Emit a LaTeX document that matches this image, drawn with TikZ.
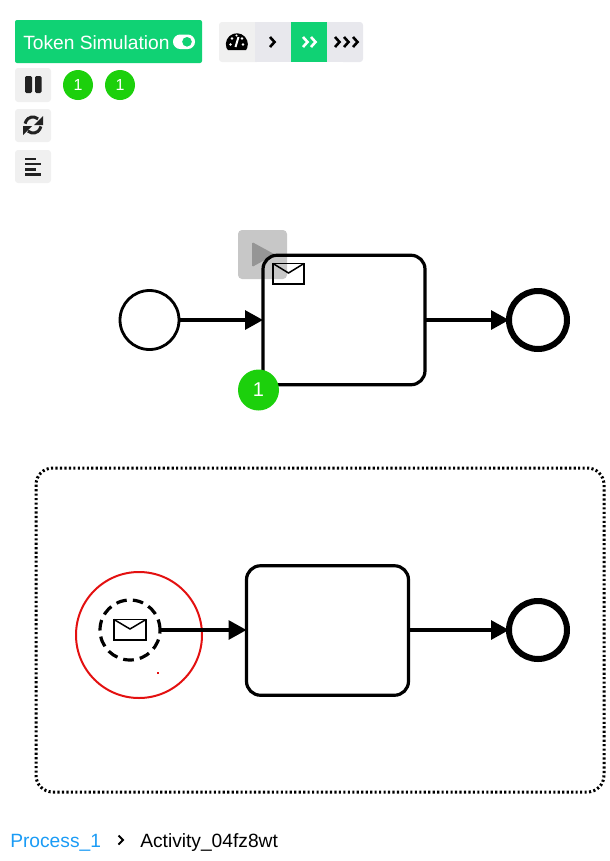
\documentclass[tikz,border=0pt]{standalone}
\usepackage{fontspec}
\setmainfont{Liberation Sans}
\usetikzlibrary{arrows.meta}
\definecolor{tsgreen}{HTML}{10D274}
\definecolor{tokgreen}{HTML}{1CD00C}
\definecolor{btngray}{HTML}{F0F0F0}
\definecolor{btnlav}{HTML}{E8E8ED}
\definecolor{icondark}{HTML}{222222}
\definecolor{crumb}{HTML}{1A9BF5}
\definecolor{selred}{HTML}{E31010}
\def\px{0.75pt}
\tikzset{
  x=0.75pt,y=-0.75pt,
  btn/.style={fill=btngray,rounded corners=2.25pt,draw=none},
  taskbox/.style={draw=black,fill=white,line width=3.2*\px,rounded corners=10.5pt,minimum width=162*\px,minimum height=129.5*\px,inner sep=0pt,outer sep=0pt},
  startev/.style={circle,draw=black,fill=white,line width=2.8*\px,minimum size=59*\px,inner sep=0pt,outer sep=0pt},
  endev/.style={circle,draw=black,fill=white,line width=6*\px,minimum size=58*\px,inner sep=0pt,outer sep=0pt},
  flow/.style={draw=black,line width=3.2*\px,-{Triangle[length=18*\px,width=19*\px]}},
  badge/.style={circle,fill=tokgreen,text=white,inner sep=0pt,minimum size=30*\px,font=\fontsize{12pt}{12pt}\selectfont},
  envelope/.style={draw=black,fill=white,line width=1.5*\px},
}
\begin{document}
\begin{tikzpicture}
\useasboundingbox (0,0) rectangle (610,861);
% toolbar
\fill[tsgreen,rounded corners=1.5pt] (15,20) rectangle (202,63);
\node[anchor=base west,text=white,inner sep=0pt,font=\fontsize{14.4pt}{14.4pt}\selectfont] (tstext) at (23,49) {Token Simulation};
\fill[white,rounded corners=5.4pt] (173,34.5) rectangle (195,49);
\fill[tsgreen] (187,41.8) circle (4.8);
% speed group
\fill[btngray,rounded corners=2.25pt] (219,22) rectangle (260,62);
\fill[btnlav,rounded corners=2.25pt] (340,22) rectangle (363,62);
\fill[btnlav] (255,22) rectangle (345,62);
\fill[tsgreen] (291,22) rectangle (327,62);
% gauge
\fill[black] (226.5,48) arc[start angle=160,end angle=380,radius=11] -- (246,50) -- (228,50) -- cycle;
\begin{scope}[white]
\fill (230.5,44.5) circle (1.3);
\fill (232,38.5) circle (1.3);
\fill (243,44.5) circle (1.3);
\fill (242,38.5) circle (1.3);
\fill (236.5,35.5) circle (1.2);
\draw[line width=2*\px] (235.5,47) -- (238.5,37);
\end{scope}
% chevrons
\draw[black,line width=2.6*\px] (270,37) -- (274.5,42) -- (270,47);
\begin{scope}[white,line width=2.6*\px]
\draw (303,37) -- (307.5,42) -- (303,47);
\draw (311,37) -- (315.5,42) -- (311,47);
\end{scope}
\begin{scope}[black,line width=2.6*\px]
\draw (335,37) -- (339.5,42) -- (335,47);
\draw (344,37) -- (348.5,42) -- (344,47);
\draw (353,37) -- (357.5,42) -- (353,47);
\end{scope}
% side buttons
\path[btn] (15,68) rectangle (51,102);
\fill[icondark,rounded corners=1pt] (25,76) rectangle (32,93);
\fill[icondark,rounded corners=1pt] (35,76) rectangle (41.5,93);
\path[btn] (15,109) rectangle (51,142);
\begin{scope}[icondark,line width=3*\px]
\draw (25.1,123.6) arc[start angle=190,end angle=310,radius=8];
\draw (40.9,126.4) arc[start angle=10,end angle=130,radius=8];
\end{scope}
\fill[icondark] (43,116) -- (43,125) -- (34,125) -- cycle;
\fill[icondark] (23,135) -- (23,126) -- (32,126) -- cycle;
\path[btn] (15,150) rectangle (51,183);
\fill[icondark] (25,157.5) rectangle (36,160);
\fill[icondark] (25,162.5) rectangle (41,165);
\fill[icondark] (25,168) rectangle (36,170.5);
\fill[icondark] (25,173) rectangle (41,175.5);
\node[badge] (tok1) at (78,85) {1};
\node[badge] (tok2) at (120,85) {1};
% upper process
\node[startev] (start1) at (149.5,320) {};
\node[taskbox] (task1) at (344,320) {};
\node[endev] (end1) at (538,320) {};
\draw[flow] (start1) -- (task1);
\draw[flow] (task1) -- (end1);
\draw[envelope] (273,263.5) rectangle (304,284);
\draw[draw=black,line width=1.5*\px] (273,263.5) -- (288.5,273) -- (304,263.5);
\fill[black,fill opacity=0.22,rounded corners=3pt] (238,230) rectangle (287,279);
\fill[black,fill opacity=0.25,rounded corners=1pt] (252,242) -- (275,254.5) -- (252,267) -- cycle;
\node[circle,fill=tokgreen,text=white,inner sep=0pt,minimum size=41*\px,font=\fontsize{15pt}{15pt}\selectfont] (tok3) at (258.5,390) {1};
% sub process frame
\draw[black,line width=3*\px,dash pattern=on 1.6pt off 1.75pt,rounded corners=12.5pt] (36,468) rectangle (604,792);
% lower process
\node[circle,draw=selred,line width=2*\px,minimum size=126*\px,inner sep=0pt] (sel) at (139,635) {};
\fill[selred] (157,672) rectangle (159,674);
\node[circle,draw=black,line width=3.2*\px,dash pattern=on 8pt off 4.6pt,minimum size=60*\px,inner sep=0pt,outer sep=0pt] (start2) at (130,630) {};
\draw[envelope] (114,619.5) rectangle (146,640);
\draw[draw=black,line width=1.5*\px] (114,619.5) -- (130,629) -- (146,619.5);
\node[taskbox] (task2) at (327.5,630.5) {};
\node[endev] (end2) at (538,630) {};
\draw[flow] (start2) -- (task2.west |- start2);
\draw[flow] (task2.east |- end2) -- (end2);
% breadcrumb
\node[anchor=base west,inner sep=0pt,text=crumb,font=\fontsize{14.4pt}{14.4pt}\selectfont] (crumb1) at (10,847) {Process\_1};
\draw[black,line width=2*\px] (118.5,835.5) -- (123,840) -- (118.5,844.5);
\node[anchor=base west,inner sep=0pt,text=black,font=\fontsize{14.4pt}{14.4pt}\selectfont] (crumb2) at (140,847) {Activity\_04fz8wt};
\end{tikzpicture}
\end{document}
